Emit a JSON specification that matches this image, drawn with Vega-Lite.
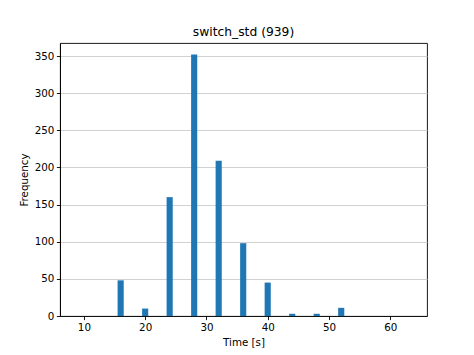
{
  "$schema": "https://vega.github.io/schema/vega-lite/v6.json",
  "width": 367,
  "height": 273,
  "autosize": {"type": "none"},
  "padding": {"left": 60, "top": 43, "right": 47, "bottom": 39},
  "background": "white",
  "title": {"text": "switch_std (939)", "fontSize": 12.3, "fontWeight": "normal", "font": "DejaVu Sans", "color": "black", "offset": 5},
  "config": {
    "view": {"stroke": "black", "strokeWidth": 0.9},
    "axis": {
      "labelFont": "DejaVu Sans", "titleFont": "DejaVu Sans",
      "labelFontSize": 10.3, "titleFontSize": 10.3, "titleFontWeight": "normal",
      "labelColor": "black", "titleColor": "black",
      "tickColor": "black", "domainColor": "black", "domainWidth": 0.9,
      "tickSize": 3.6, "tickWidth": 0.9, "labelPadding": 2.5
    }
  },
  "data": {"values": [
    {"bin_start": 15.5, "bin_end": 16.5, "count": 48},
    {"bin_start": 19.5, "bin_end": 20.5, "count": 10},
    {"bin_start": 23.5, "bin_end": 24.5, "count": 160},
    {"bin_start": 27.5, "bin_end": 28.5, "count": 352},
    {"bin_start": 31.5, "bin_end": 32.5, "count": 209},
    {"bin_start": 35.5, "bin_end": 36.5, "count": 98},
    {"bin_start": 39.5, "bin_end": 40.5, "count": 45},
    {"bin_start": 43.5, "bin_end": 44.5, "count": 3},
    {"bin_start": 47.5, "bin_end": 48.5, "count": 3},
    {"bin_start": 51.5, "bin_end": 52.5, "count": 11}
  ]},
  "mark": {"type": "rect", "color": "#1f77b4"},
  "encoding": {
    "x": {"field": "bin_start", "type": "quantitative", "title": "Time [s]",
      "scale": {"domain": [6.1, 66], "nice": false, "zero": false},
      "axis": {"values": [10, 20, 30, 40, 50, 60], "grid": false, "titlePadding": 5}},
    "x2": {"field": "bin_end"},
    "y": {"field": "count", "type": "quantitative", "title": "Frequency",
      "scale": {"domain": [0, 367.5], "nice": false},
      "axis": {"values": [0, 50, 100, 150, 200, 250, 300, 350], "grid": true, "gridColor": "#cccccc", "gridWidth": 0.9, "titlePadding": 5}}
  }
}
